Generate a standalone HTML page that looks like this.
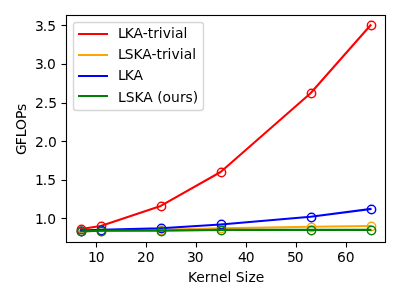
<!DOCTYPE html>
<html><head><meta charset="utf-8"><title>GFLOPs vs Kernel Size</title>
<style>html,body{margin:0;padding:0;background:#fff;overflow:hidden}svg{display:block}text{font-family:"DejaVu Sans", "Liberation Sans", sans-serif;font-size:13.8889px;fill:#000}</style></head><body>
<svg width="400" height="300" viewBox="0 0 400 300">
<rect x="0" y="0" width="400" height="300" fill="#fff"/>
<g stroke="#000" stroke-width="1.111" fill="none">
<path d="M96.5 242.5V247.5"/>
<path d="M146.5 242.5V247.5"/>
<path d="M196.5 242.5V247.5"/>
<path d="M246.5 242.5V247.5"/>
<path d="M296.5 242.5V247.5"/>
<path d="M346.5 242.5V247.5"/>
<path d="M66.5 218.5H61.5"/>
<path d="M66.5 180.5H61.5"/>
<path d="M66.5 141.5H61.5"/>
<path d="M66.5 103.5H61.5"/>
<path d="M66.5 64.5H61.5"/>
<path d="M66.5 25.5H61.5"/>
</g>
<clipPath id="c"><rect x="66.278" y="15.000" width="318.722" height="226.722"/></clipPath>
<g clip-path="url(#c)" fill="none">
<polyline points="80.765,229.101 100.748,226.013 160.696,205.942 220.643,171.976 310.565,93.237 370.513,25.306" stroke="#ff0000" stroke-width="2.083" stroke-linecap="square" stroke-linejoin="round"/>
<circle cx="81.5" cy="229.5" r="4.167" stroke="#ff0000" stroke-width="1.500"/>
<circle cx="101.5" cy="226.5" r="4.167" stroke="#ff0000" stroke-width="1.500"/>
<circle cx="161.5" cy="206.5" r="4.167" stroke="#ff0000" stroke-width="1.500"/>
<circle cx="221.5" cy="172.5" r="4.167" stroke="#ff0000" stroke-width="1.500"/>
<circle cx="311.5" cy="93.5" r="4.167" stroke="#ff0000" stroke-width="1.500"/>
<circle cx="371.5" cy="25.5" r="4.167" stroke="#ff0000" stroke-width="1.500"/>
<polyline points="80.765,231.417 100.748,230.645 160.696,229.873 220.643,228.329 310.565,226.785 370.513,226.013" stroke="#ffa500" stroke-width="2.083" stroke-linecap="square" stroke-linejoin="round"/>
<circle cx="81.5" cy="231.5" r="4.167" stroke="#ffa500" stroke-width="1.500"/>
<circle cx="101.5" cy="231.5" r="4.167" stroke="#ffa500" stroke-width="1.500"/>
<circle cx="161.5" cy="230.5" r="4.167" stroke="#ffa500" stroke-width="1.500"/>
<circle cx="221.5" cy="228.5" r="4.167" stroke="#ffa500" stroke-width="1.500"/>
<circle cx="311.5" cy="227.5" r="4.167" stroke="#ffa500" stroke-width="1.500"/>
<circle cx="371.5" cy="226.5" r="4.167" stroke="#ffa500" stroke-width="1.500"/>
<polyline points="80.765,230.645 100.748,229.873 160.696,228.329 220.643,224.469 310.565,216.750 370.513,209.030" stroke="#0000ff" stroke-width="2.083" stroke-linecap="square" stroke-linejoin="round"/>
<circle cx="81.5" cy="231.5" r="4.167" stroke="#0000ff" stroke-width="1.500"/>
<circle cx="101.5" cy="230.5" r="4.167" stroke="#0000ff" stroke-width="1.500"/>
<circle cx="161.5" cy="228.5" r="4.167" stroke="#0000ff" stroke-width="1.500"/>
<circle cx="221.5" cy="224.5" r="4.167" stroke="#0000ff" stroke-width="1.500"/>
<circle cx="311.5" cy="217.5" r="4.167" stroke="#0000ff" stroke-width="1.500"/>
<circle cx="371.5" cy="209.5" r="4.167" stroke="#0000ff" stroke-width="1.500"/>
<polyline points="80.765,231.417 100.748,230.645 160.696,230.645 220.643,229.873 310.565,229.873 370.513,229.873" stroke="#008000" stroke-width="2.083" stroke-linecap="square" stroke-linejoin="round"/>
<circle cx="81.5" cy="231.5" r="4.167" stroke="#008000" stroke-width="1.500"/>
<circle cx="101.5" cy="231.5" r="4.167" stroke="#008000" stroke-width="1.500"/>
<circle cx="161.5" cy="231.5" r="4.167" stroke="#008000" stroke-width="1.500"/>
<circle cx="221.5" cy="230.5" r="4.167" stroke="#008000" stroke-width="1.500"/>
<circle cx="311.5" cy="230.5" r="4.167" stroke="#008000" stroke-width="1.500"/>
<circle cx="371.5" cy="230.5" r="4.167" stroke="#008000" stroke-width="1.500"/>
</g>
<rect x="66.5" y="15.5" width="319.0" height="227.0" fill="none" stroke="#000" stroke-width="1.111"/>
<rect x="73.5" y="22.5" width="130" height="88" rx="2.78" fill="#fff" stroke="#ccc" stroke-width="1.389" opacity="0.8"/>
<rect x="78" y="33" width="30" height="2" fill="#ff0000" shape-rendering="crispEdges"/>
<rect x="78" y="54" width="30" height="2" fill="#ffa500" shape-rendering="crispEdges"/>
<rect x="78" y="75" width="30" height="2" fill="#0000ff" shape-rendering="crispEdges"/>
<rect x="78" y="95" width="30" height="2" fill="#008000" shape-rendering="crispEdges"/>
<text x="88 95.75" y="262">10</text>
<text x="137 145.75" y="262">20</text>
<text x="187 194.75" y="262">30</text>
<text x="238 245.75" y="262">40</text>
<text x="287 294.75" y="262">50</text>
<text x="337 345.75" y="262">60</text>
<text x="35 42.75 47.25" y="224">1.0</text>
<text x="35 42.75 47.25" y="185">1.5</text>
<text x="35 43.75 48" y="147">2.0</text>
<text x="35 43.75 48.25" y="108">2.5</text>
<text x="35 42.75 47" y="69">3.0</text>
<text x="35 42.75 47.25" y="31">3.5</text>
<text x="188 196.25 204.75 210.25 219 227.5 231.5 235.75 244.5 248.5 255.75" y="282">Kernel Size</text>
<text x="118 124.75 133.5 142.75 147.75 153.25 158.75 162.75 171 175 183.5" y="38">LKA-trivial</text>
<text x="118 124.75 133.5 142.25 151.5 156.5 162 167.5 171.5 179.75 183.75 192.25" y="59">LSKA-trivial</text>
<text x="118 124.75 133.5" y="80">LKA</text>
<text x="118 125.75 134.5 143.25 152.75 157.25 162.5 171 180 185.5 192.75" y="102">LSKA (ours)</text>
<text transform="translate(26 130) rotate(-90)" x="-25 -15.25 -7.25 0 11 19" y="0">GFLOPs</text>
</svg></body></html>
